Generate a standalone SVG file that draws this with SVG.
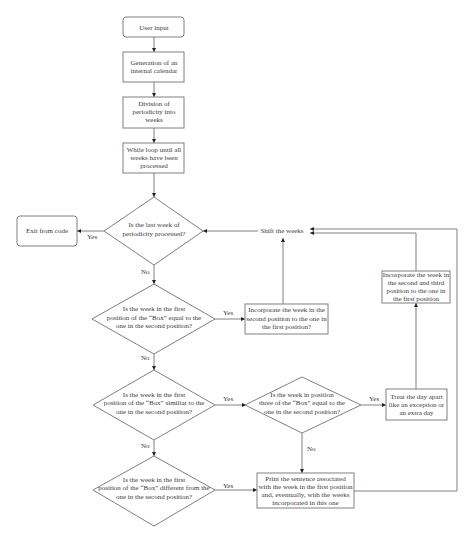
<svg xmlns="http://www.w3.org/2000/svg" width="474" height="543" viewBox="0 0 474 543">
<defs>
<marker id="ah" viewBox="0 0 10 10" refX="10" refY="5" markerWidth="4" markerHeight="4" orient="auto" markerUnits="userSpaceOnUse">
<path d="M0,0 L10,5 L0,10 z" fill="#222"/>
</marker>
<style>
.n{fill:#fff;stroke:#808080;stroke-width:1}
.t{font-family:"Liberation Serif",serif;font-size:7px;fill:#3a3a3a;text-anchor:middle}
.l{font-family:"Liberation Serif",serif;font-size:7px;fill:#3a3a3a}
.c{fill:none;stroke:#808080;stroke-width:1}
</style>
</defs>
<rect width="474" height="543" fill="#fff"/>
<g id="connectors">
<path class="c" d="M154,37 V52" marker-end="url(#ah)"/>
<path class="c" d="M154,82 V97" marker-end="url(#ah)"/>
<path class="c" d="M154,128 V143" marker-end="url(#ah)"/>
<path class="c" d="M154,173 V197" marker-end="url(#ah)"/>
<path class="c" d="M104,231 H77" marker-end="url(#ah)"/>
<path class="c" d="M258,231 H203" marker-end="url(#ah)"/>
<path class="c" d="M154,265 V284" marker-end="url(#ah)"/>
<path class="c" d="M215,319 H245" marker-end="url(#ah)"/>
<path class="c" d="M283,304 V238" marker-end="url(#ah)"/>
<path class="c" d="M154,354 V370" marker-end="url(#ah)"/>
<path class="c" d="M215,405 H246" marker-end="url(#ah)"/>
<path class="c" d="M154,440 V456" marker-end="url(#ah)"/>
<path class="c" d="M215,490 H257" marker-end="url(#ah)"/>
<path class="c" d="M361,405 H386" marker-end="url(#ah)"/>
<path class="c" d="M302,433 V473" marker-end="url(#ah)"/>
<path class="c" d="M416,389 V303" marker-end="url(#ah)"/>
<path class="c" d="M416,271 V233 H310" marker-end="url(#ah)"/>
<path class="c" d="M354,491 H457 V229 H310" marker-end="url(#ah)"/>
<text class="l" x="87" y="239">Yes</text>
<text class="l" x="141" y="274">No</text>
<text class="l" x="223" y="315">Yes</text>
<text class="l" x="141" y="360">No</text>
<text class="l" x="223" y="401">Yes</text>
<text class="l" x="141" y="448">No</text>
<text class="l" x="223" y="488">Yes</text>
<text class="l" x="369" y="401">Yes</text>
<text class="l" x="307" y="451">No</text>
</g>
<g id="user-input">
<rect class="n" x="123" y="17" width="61" height="20" rx="3"/>
<text class="t" x="154" y="29.5">User input</text>
</g>
<g id="generation">
<rect class="n" x="123" y="52" width="61" height="30"/>
<text class="t" x="154" y="65">Generation of an</text>
<text class="t" x="154" y="73">internal calendar</text>
</g>
<g id="division">
<rect class="n" x="123" y="97" width="61" height="31"/>
<text class="t" x="154" y="106">Division of</text>
<text class="t" x="154" y="114">periodicity into</text>
<text class="t" x="154" y="122">weeks</text>
</g>
<g id="while-loop">
<rect class="n" x="123" y="143" width="61" height="30"/>
<text class="t" x="154" y="151.5">While loop until all</text>
<text class="t" x="154" y="159.5">weeks have been</text>
<text class="t" x="154" y="168">processed</text>
</g>
<g id="last-week">
<polygon class="n" points="154,197 203,231 154,265 104,231"/>
<text class="t" x="154" y="227">Is the last week of</text>
<text class="t" x="154" y="235.5">periodicity processed?</text>
</g>
<g id="exit">
<rect class="n" x="17" y="216" width="60" height="30" rx="3"/>
<text class="t" x="47" y="233">Exit from code</text>
</g>
<g id="shift">
<text class="t" x="282" y="233">Shift the weeks</text>
</g>
<g id="equal">
<polygon class="n" points="154,284 215,319 154,354 92,319"/>
<text class="t" x="154" y="311">Is the week in the first</text>
<text class="t" x="154" y="319.5">position of the “Box” equal to the</text>
<text class="t" x="154" y="328">one in the second position?</text>
</g>
<g id="incorporate-second">
<rect class="n" x="245" y="304" width="83" height="30"/>
<text class="t" x="286.5" y="312">Incorporate the week in the</text>
<text class="t" x="286.5" y="320.5">second position to the one in</text>
<text class="t" x="286.5" y="329">the first position?</text>
</g>
<g id="incorporate-second-third">
<rect class="n" x="382" y="271" width="68" height="32"/>
<text class="t" x="416" y="277">Incorporate the week in</text>
<text class="t" x="416" y="285">the second and third</text>
<text class="t" x="416" y="293">position to the one in</text>
<text class="t" x="416" y="301">the first position</text>
</g>
<g id="similar">
<polygon class="n" points="154,370 215,405 154,440 93,405"/>
<text class="t" x="154" y="396.5">Is the week in the first</text>
<text class="t" x="154" y="405">position of the “Box” similiar to the</text>
<text class="t" x="154" y="413.5">one in the second position?</text>
</g>
<g id="position-three">
<polygon class="n" points="302,377 361,405 302,433 245,405"/>
<text class="t" x="302" y="396.5">Is the week in position</text>
<text class="t" x="302" y="405">three of the “Box” equal to the</text>
<text class="t" x="302" y="413.5">one in the second position?</text>
</g>
<g id="treat">
<rect class="n" x="386" y="389" width="61" height="31"/>
<text class="t" x="416.5" y="399">Treat the day apart</text>
<text class="t" x="416.5" y="407">like an exception or</text>
<text class="t" x="416.5" y="415">an extra day</text>
</g>
<g id="different">
<polygon class="n" points="154,456 215,490 154,526 93,490"/>
<text class="t" x="154" y="481.5">Is the week in the first</text>
<text class="t" x="154" y="490">position of the “Box” different from the</text>
<text class="t" x="154" y="498.5">one in the second position?</text>
</g>
<g id="print">
<rect class="n" x="257" y="473" width="97" height="35"/>
<text class="t" x="305.5" y="480.5">Print the sentence associated</text>
<text class="t" x="305.5" y="488.5">with the week in the first position</text>
<text class="t" x="305.5" y="496.5">and, eventually, with the weeks</text>
<text class="t" x="305.5" y="505">incorporated in this one</text>
</g>
</svg>
